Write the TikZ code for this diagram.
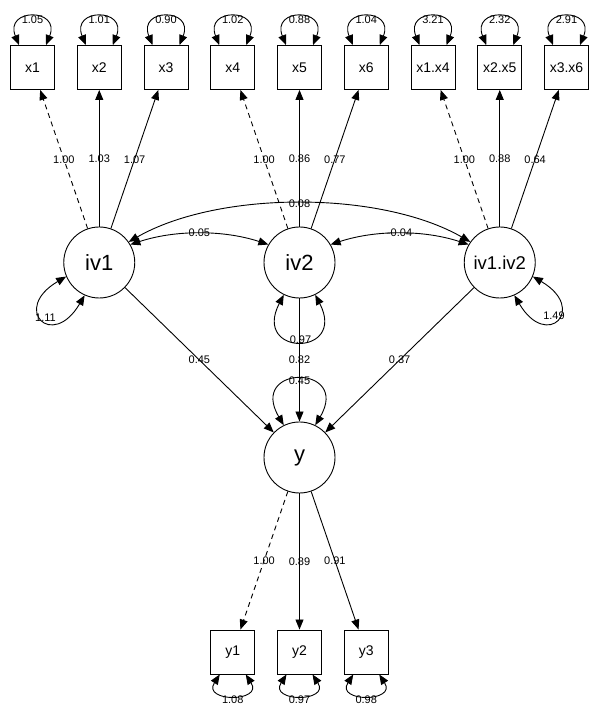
\documentclass[tikz,border=0pt]{standalone}
\usepackage{fontspec}
\setmainfont{Liberation Sans}
\usetikzlibrary{arrows.meta}
\begin{document}
\begin{tikzpicture}[x=1pt,y=1pt,
  obs/.style={draw, rectangle, minimum width=44pt, minimum height=44pt, inner sep=0pt, line width=0.9pt, font=\fontsize{14}{16}\selectfont},
  lat/.style={draw, circle, minimum size=71pt, inner sep=0pt, line width=0.9pt, font=\fontsize{22}{24}\selectfont},
  elab/.style={font=\fontsize{11}{12}\selectfont, inner sep=0pt},
  conn/.style={line width=0.9pt, -{Triangle[length=10pt,width=8pt]}},
  dconn/.style={conn, dash pattern=on 5pt off 4pt},
  cov/.style={line width=0.9pt, {Triangle[length=10pt,width=8pt]}-{Triangle[length=10pt,width=8pt]}},
]
\useasboundingbox (0,0) rectangle (600,716);

% top indicators with variances
\foreach \n/\t/\v [count=\i from 0] in {x1/x1/1.05, x2/x2/1.01, x3/x3/0.90, x4/x4/1.02, x5/x5/0.88, x6/x6/1.04, x14/x1.x4/3.21, x25/x2.x5/2.32, x36/x3.x6/2.91} {
  \node[obs] (\n) at ({32.5+66.75*\i},648.5) {\t};
  \draw[cov] ([xshift=-13.5pt]\n.north) .. controls +(-15,37.3) and +(15,37.3) .. ([xshift=13.5pt]\n.north);
  \node[elab] (v\n) at ({32.5+66.75*\i},696) {\v};
}

% latent variables
\node[lat] (iv1) at (99.25,453.5) {iv1};
\node[lat] (iv2) at (299.5,453.5) {iv2};
\node[lat, font=\fontsize{18.5}{20}\selectfont] (iv12) at (499.75,453.5) {iv1.iv2};
\node[lat] (ly) at (299.5,258.5) {y};

% bottom indicators
\foreach \n/\v [count=\i from 0] in {y1/1.08, y2/0.97, y3/0.98} {
  \node[obs] (\n) at ({232.75+66.75*\i},64) {\n};
  \draw[cov] ([xshift=-13pt]\n.south) .. controls +(-18,-28) and +(18,-28) .. ([xshift=13pt]\n.south);
  \node[elab] (v\n) at ({232.75+66.75*\i},16) {\v};
}

% loadings
\draw[dconn] (iv1) -- node[elab]{1.00} (x1);
\draw[conn] (iv1) -- node[elab]{1.03} (x2);
\draw[conn] (iv1) -- node[elab]{1.07} (x3);
\draw[dconn] (iv2) -- node[elab]{1.00} (x4);
\draw[conn] (iv2) -- node[elab]{0.86} (x5);
\draw[conn] (iv2) -- node[elab]{0.77} (x6);
\draw[dconn] (iv12) -- node[elab]{1.00} (x14);
\draw[conn] (iv12) -- node[elab]{0.88} (x25);
\draw[conn] (iv12) -- node[elab]{0.64} (x36);

% regressions
\draw[conn] (iv1) -- node[elab]{0.45} (ly);
\draw[conn] (iv2) -- node[elab]{0.82} (ly);
\draw[conn] (iv12) -- node[elab]{0.37} (ly);

% y measurement
\draw[dconn] (ly) -- node[elab]{1.00} (y1);
\draw[conn] (ly) -- node[elab]{0.89} (y2);
\draw[conn] (ly) -- node[elab]{0.91} (y3);

% covariances
\draw[cov] (iv1.30) .. controls +(45,14.7) and +(-45,14.7) .. (iv2.150);
\node[elab] (c12) at (199.4,483) {0.05};
\draw[cov] (iv2.30) .. controls +(45,14.7) and +(-45,14.7) .. (iv12.150);
\node[elab] (c23) at (399.6,483) {-0.04};
\draw[cov] (iv1.35) .. controls +(90,51.5) and +(-90,51.5) .. (iv12.145);
\node[elab] (c13) at (299.5,512.5) {0.08};

% latent variances
\draw[cov] (iv1.203) .. controls +(-55.25,-32.5) and +(-32.5,-55.25) .. (iv1.246);
\node[elab] (viv1) at (45.5,398) {1.11};
\draw[cov] (iv12.337) .. controls +(55.25,-32.5) and +(32.5,-55.25) .. (iv12.294);
\node[elab] (viv12) at (554,400) {1.49};
\draw[cov] (iv2.244) .. controls +(-32,-62) and +(32,-62) .. (iv2.296);
\node[elab] (viv2) at (300.5,376.5) {0.97};
\draw[cov] (ly.116) .. controls +(-36,61) and +(36,61) .. (ly.64);
\node[elab] (vly) at (299.5,335.3) {0.45};
\end{tikzpicture}
\end{document}
